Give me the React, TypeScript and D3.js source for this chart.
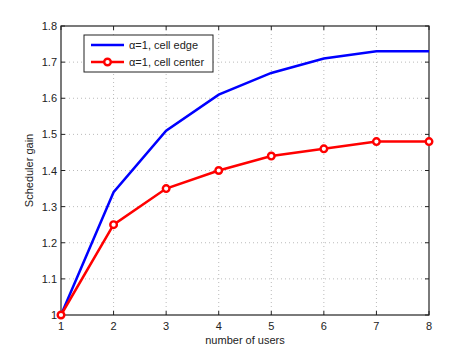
import React from "react";
import * as d3 from "d3";

const users = [1, 2, 3, 4, 5, 6, 7, 8];
const cellEdge = [1.0, 1.34, 1.51, 1.61, 1.67, 1.71, 1.73, 1.73];
const cellCenter = [1.0, 1.25, 1.35, 1.4, 1.44, 1.46, 1.48, 1.48];
const yTicks = [1, 1.1, 1.2, 1.3, 1.4, 1.5, 1.6, 1.7, 1.8];
const xTicks = [1, 2, 3, 4, 5, 6, 7, 8];
const legendLabels = ["α=1, cell edge", "α=1, cell center"];

export default function App() {
  const W = 474, H = 355;
  const L = 61, R = 429, T = 26, B = 315;
  const x = d3.scaleLinear().domain([1, 8]).range([L, R]);
  const y = d3.scaleLinear().domain([1, 1.8]).range([B, T]);
  const line = d3.line<number>().x((_, i) => x(users[i])).y((d) => y(d));
  const font = "Liberation Sans, Arial, sans-serif";
  const tl = 4;
  return (
    <svg width={W} height={H} style={{ position: "absolute", left: 0, top: 0, background: "#fff" }}>
      <rect x={0} y={0} width={W} height={H} fill="#fff" />
      {xTicks.slice(1, -1).map((t) => (
        <line key={"gx" + t} x1={x(t)} x2={x(t)} y1={T} y2={B} stroke="#aaa" strokeWidth={0.8} strokeDasharray="1,3" />
      ))}
      {yTicks.slice(1, -1).map((t) => (
        <line key={"gy" + t} x1={L} x2={R} y1={y(t)} y2={y(t)} stroke="#aaa" strokeWidth={0.8} strokeDasharray="1,3" />
      ))}
      {xTicks.map((t) => (
        <g key={"tx" + t}>
          <line x1={x(t)} x2={x(t)} y1={B} y2={B - tl} stroke="#222" strokeWidth={1} />
          <line x1={x(t)} x2={x(t)} y1={T} y2={T + tl} stroke="#222" strokeWidth={1} />
          <text x={x(t)} y={330} textAnchor="middle" fontFamily={font} fontSize={11} fill="#222">{t}</text>
        </g>
      ))}
      {yTicks.map((t) => (
        <g key={"ty" + t}>
          <line x1={L} x2={L + tl} y1={y(t)} y2={y(t)} stroke="#222" strokeWidth={1} />
          <line x1={R} x2={R - tl} y1={y(t)} y2={y(t)} stroke="#222" strokeWidth={1} />
          <text x={L - 4} y={y(t) + 4} textAnchor="end" fontFamily={font} fontSize={11} fill="#222">{d3.format(".1f")(t).replace(/\.0$/, "")}</text>
        </g>
      ))}
      <rect x={L} y={T} width={R - L} height={B - T} fill="none" stroke="#222" strokeWidth={1.2} />
      <path d={line(cellEdge) || ""} fill="none" stroke="#0000ff" strokeWidth={2.5} />
      <path d={line(cellCenter) || ""} fill="none" stroke="#ff0000" strokeWidth={2.5} />
      {cellCenter.map((v, i) => (
        <circle key={"m" + i} cx={x(users[i])} cy={y(v)} r={3.3} fill="#fff" stroke="#ff0000" strokeWidth={2.4} />
      ))}
      <text x={(L + R) / 2} y={344} textAnchor="middle" fontFamily={font} fontSize={11} fill="#222">number of users</text>
      <text transform={`translate(33,${(T + B) / 2}) rotate(-90)`} textAnchor="middle" fontFamily={font} fontSize={11} fill="#222">Scheduler gain</text>
      <rect x={84} y={35} width={129} height={37} fill="#fff" stroke="#222" strokeWidth={1} />
      <line x1={91} x2={124} y1={45} y2={45} stroke="#0000ff" strokeWidth={2.5} />
      <text x={129} y={49} fontFamily={font} fontSize={11} fill="#222">{legendLabels[0]}</text>
      <line x1={91} x2={124} y1={62} y2={62} stroke="#ff0000" strokeWidth={2.5} />
      <circle cx={107.5} cy={62} r={3.3} fill="#fff" stroke="#ff0000" strokeWidth={2.4} />
      <text x={129} y={66} fontFamily={font} fontSize={11} fill="#222">{legendLabels[1]}</text>
    </svg>
  );
}
